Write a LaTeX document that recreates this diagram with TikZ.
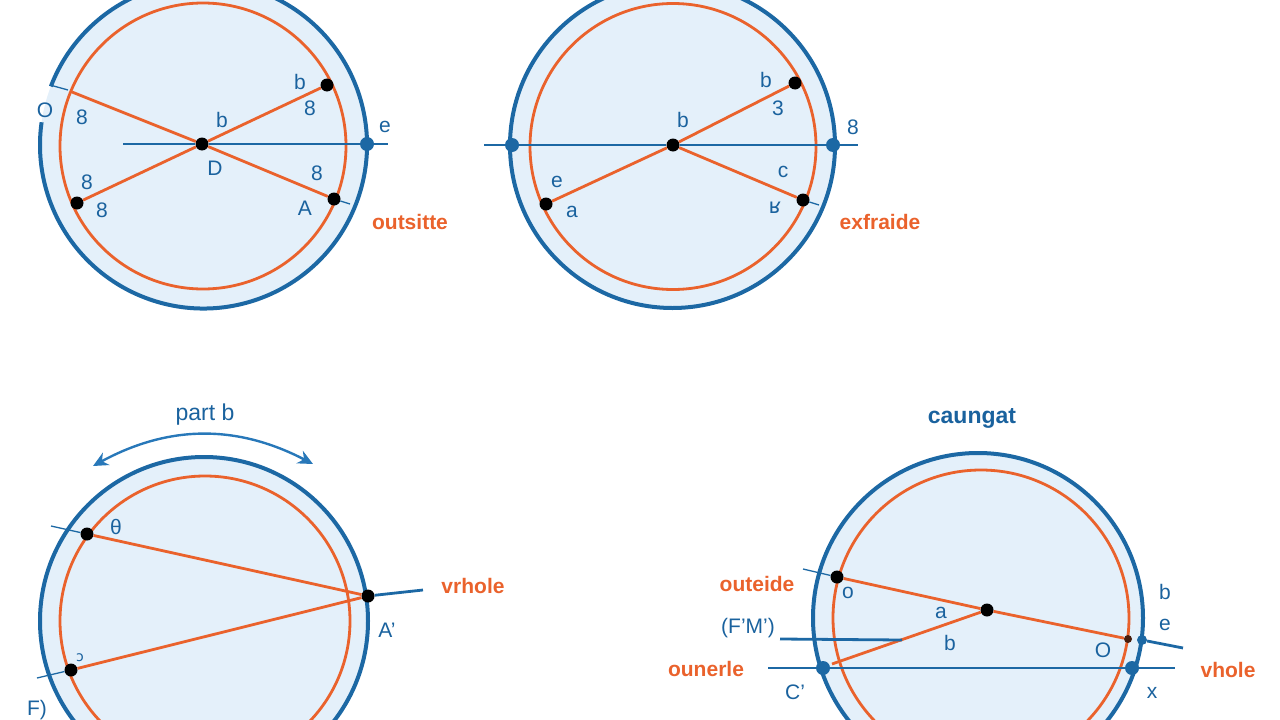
\documentclass[tikz,border=0pt]{standalone}
\usepackage{fontspec}
\setmainfont{Liberation Sans}
\newfontfamily\ipafont{DejaVu Sans}
\usetikzlibrary{arrows.meta}
\usetikzlibrary{positioning}

\definecolor{rimblue}{RGB}{28,104,164}
\definecolor{arcblue}{RGB}{40,120,185}
\definecolor{chordorange}{RGB}{234,98,44}
\definecolor{discfill}{RGB}{228,240,250}
\definecolor{lblblue}{RGB}{26,98,158}

\tikzset{
    rim/.style={draw=rimblue, line width=4pt},
    ring/.style={draw=chordorange, line width=2.8pt},
    oword/.style={text=chordorange, font=\fontsize{21}{24}\selectfont\bfseries},
}

\begin{document}
\begin{tikzpicture}[x=1pt, y=-1pt]
            \useasboundingbox (0,0) rectangle (1280,720);

            \fill[discfill] (203.5,145) circle[radius=163.5];
            \draw[rim] (203.5,145) ++(201:163.5) arc[start angle=201, end angle=548, radius=163.5];
            \draw[ring] (203,146) circle[radius=143];

            \fill[discfill] (672.5,145.5) circle[radius=162.5];
            \draw[rim] (672.5,145.5) circle[radius=162.5];
            \draw[ring] (673,146.5) circle[radius=143];

            \fill[discfill] (204,621) circle[radius=164];
            \draw[rim] (204,621) circle[radius=164];
            \draw[ring] (205,621) circle[radius=145];

            \fill[discfill] (978,618) circle[radius=165];
            \draw[rim] (978,618) circle[radius=165];
            \draw[ring] (981,618) circle[radius=148];

            \begin{scope}[every node/.style={circle, fill=black, inner sep=0pt, minimum size=13pt}]
                \node (D) at (202,144) {};
                \node (a1) at (327,85) {};
                \node (a2) at (334,199) {};
                \node (a3) at (77,203) {};
                \node (M2) at (673,145) {};
                \node (b1) at (795,83) {};
                \node (b2) at (546,204) {};
                \node (b3) at (803,200) {};
                \node (c1) at (87,534) {};
                \node (cA) at (368,596) {};
                \node (c2) at (71,670) {};
                \node (d1) at (837,577) {};
                \node (dM) at (987,610) {};
                \node[minimum size=8pt, fill=black!70!chordorange] (d2) at (1128,639) {};
            \end{scope}

            \begin{scope}[every node/.style={circle, fill=rimblue, inner sep=0pt, minimum size=14pt}]
                \node (e1) at (367,144) {};
                \node (f1) at (512,145) {};
                \node (f2) at (833,145) {};
                \node (dC) at (823,668) {};
                \node (dR) at (1132,668) {};
                \node[minimum size=10pt] (d3) at (1142,640) {};
            \end{scope}

            \coordinate (a4) at (72,92);
            \coordinate (h1L) at (123,144);
            \coordinate (h1R) at (388,144);
            \coordinate (t1) at (350,204);
            \coordinate (t2) at (50,85);
            \coordinate (t3) at (68,90);
            \coordinate (h2L) at (484,145);
            \coordinate (h2R) at (858,145);
            \coordinate (t4) at (819,205);
            \coordinate (g1) at (423,590);
            \coordinate (g2) at (51,526);
            \coordinate (g3) at (37,678);
            \coordinate (pbL) at (93,466);
            \coordinate (pbR) at (313,464);
            \coordinate (k1) at (803,569);
            \coordinate (k2) at (832,664);
            \coordinate (k3) at (1183,648);
            \coordinate (h4L) at (768,668);
            \coordinate (h4R) at (1175,668);
            \coordinate (s4L) at (780,639);
            \coordinate (s4R) at (902,640);

            \begin{scope}[every edge/.style={draw=chordorange, line width=2.8pt}]
                \path [-] (a4) edge (D);
                \path [-] (D) edge (a2);
                \path [-] (a3) edge (D);
                \path [-] (D) edge (a1);
                \path [-] (M2) edge (b1);
                \path [-] (M2) edge (b2);
                \path [-] (M2) edge (b3);
                \path [-] (c1) edge (cA);
                \path [-] (c2) edge (cA);
                \path [-] (d1) edge (dM);
                \path [-] (dM) edge (d2);
                \path [-] (dM) edge (k2);
            \end{scope}

            \begin{scope}[every edge/.style={draw=rimblue, line width=2.8pt}]
                \path [-] (h1L) edge (D);
                \path [-] (D) edge (e1);
                \path [-] (e1) edge (h1R);
                \path [-] (h2L) edge (f1);
                \path [-] (f1) edge (M2);
                \path [-] (M2) edge (f2);
                \path [-] (f2) edge (h2R);
                \path [-] (cA) edge (g1);
                \path [-] (h4L) edge (dC);
                \path [-] (dC) edge (dR);
                \path [-] (dR) edge (h4R);
                \path [-] (s4L) edge (s4R);
                \path [-] (d3) edge (k3);
            \end{scope}

            \begin{scope}[every edge/.style={draw=rimblue, line width=1.3pt}]
                \path [-] (a2) edge (t1);
                \path [-] (t2) edge (t3);
                \path [-] (b3) edge (t4);
                \path [-] (g2) edge (c1);
                \path [-] (g3) edge (c2);
                \path [-] (k1) edge (d1);
            \end{scope}

            \draw[arcblue, line width=2.4pt, {Stealth[length=15pt,width=14pt]}-{Stealth[length=15pt,width=14pt]}] (pbL) to[bend left=28] (pbR);

            \begin{scope}[every node/.style={text=lblblue, inner sep=0pt, font=\fontsize{21}{24}\selectfont}]
                \node (lO) at (45,110) {O};
                \node (la1) at (82,117) {8};
                \node (lb1) at (222,120) {b};
                \node (lb2) at (300,82) {b};
                \node (la2) at (310,108) {8};
                \node (le1) at (385,127) {e};
                \node (lD) at (215,168) {D};
                \node (la3) at (317,173) {8};
                \node (lA) at (305,208) {A};
                \node (la4) at (87,182) {8};
                \node (la5) at (102,210) {8};

                \node (lb3) at (683,120) {b};
                \node (lb4) at (766,80) {b};
                \node (l3) at (778,108) {3};
                \node (la6) at (853,127) {8};
                \node (lc) at (783,172) {c};
                \node (le2) at (557,182) {e};
                \node (la7) at (572,212) {a};
                \node (lr) at (775,208) {\ipafont ʁ};

                \node[font=\fontsize{23}{26}\selectfont] (lpart) at (205,415) {part b};
                \node (lth) at (116,527) {θ};
                \node (lA2) at (387,630) {A’};
                \node (lF) at (37,710) {F)};
                \node[font=\fontsize{14}{16}\selectfont\ipafont] (lhook) at (80,658) {ɔ};

                \node[font=\fontsize{23}{26}\selectfont\bfseries] (lcau) at (972,418) {caungat};
                \node (lo) at (848,593) {o};
                \node (la8) at (941,613) {a};
                \node (lb5) at (950,643) {b};
                \node (lFM) at (748,628) {(F'M')};
                \node (lC) at (795,692) {C’};
                \node (lb6) at (1165,592) {b};
                \node (le3) at (1165,625) {e};
                \node (lO2) at (1103,650) {O};
                \node (lx) at (1152,693) {x};
            \end{scope}

            \begin{scope}[every node/.style={oword, inner sep=0pt}]
                \node (w1) at (410,222) {outsitte};
                \node (w2) at (880,222) {exfraide};
                \node (w3) at (473,586) {vrhole};
                \node (w4) at (757,584) {outeide};
                \node (w5) at (706,669) {ounerle};
                \node (w6) at (1228,670) {vhole};
            \end{scope}
        \end{tikzpicture}
\end{document}
